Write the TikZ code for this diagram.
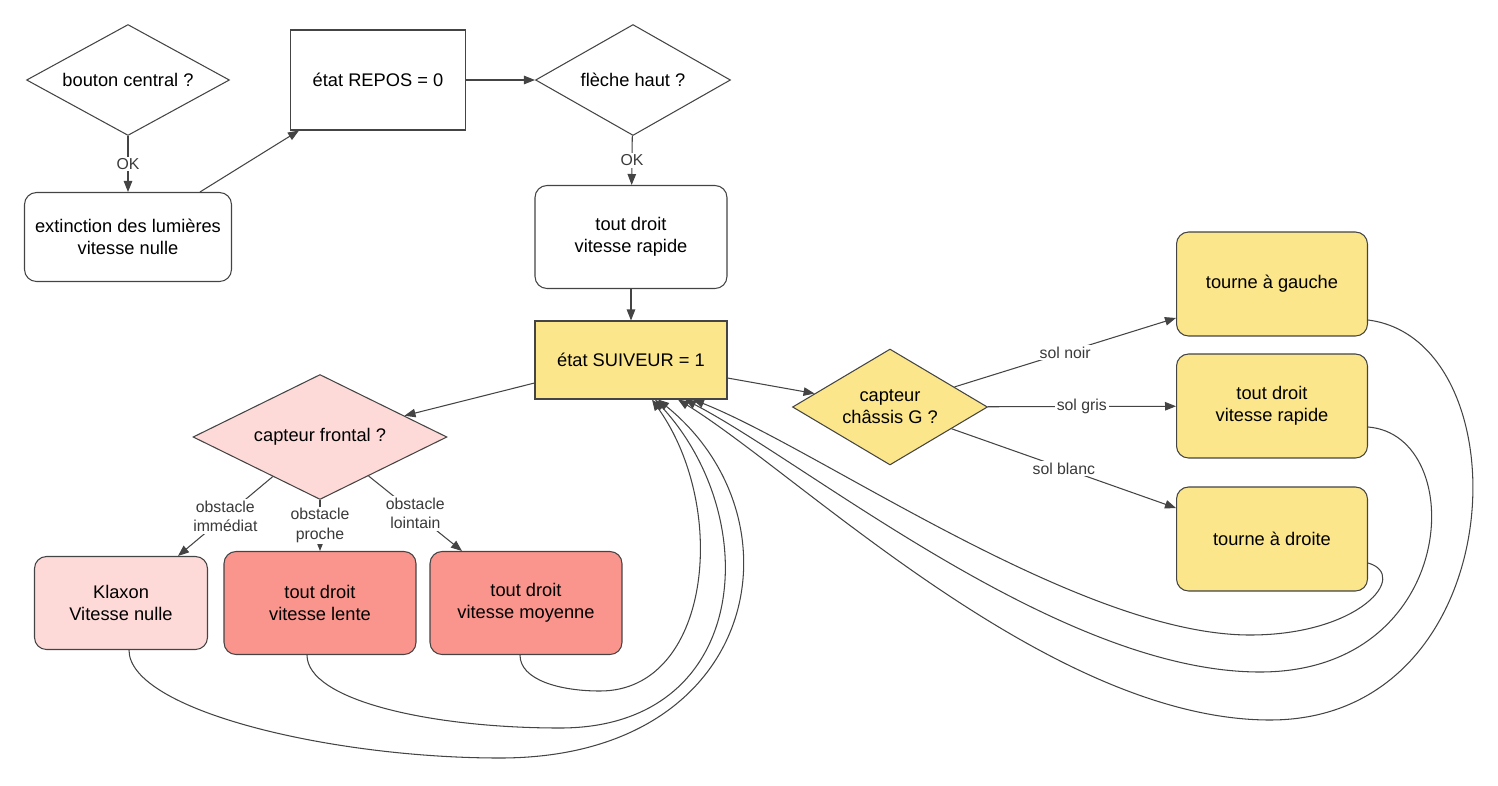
\documentclass[tikz,border=0pt]{standalone}
\usepackage{fontspec}
\setmainfont{Liberation Sans}
\usepackage{xcolor}
\definecolor{lineGrey}  {HTML}{444444}
\definecolor{labelGrey} {HTML}{3A3A3A}
\definecolor{suivBack}  {HTML}{FBE68B}
\definecolor{frontBack} {HTML}{FDDAD8}
\definecolor{moveBack}  {HTML}{FA958D}
\usetikzlibrary{arrows.meta, positioning, shapes.geometric}
\tikzset{
    stepbox/.style={rectangle, draw=lineGrey, line width=0.6pt, align=center,
                    font=\fontsize{10.4}{12.6}\selectfont,
                    minimum width=3.84cm, minimum height=2.06cm},
    roundbox/.style={stepbox, rounded corners=0.24cm},
    decision/.style={diamond, draw=lineGrey, line width=0.6pt, align=center,
                     font=\fontsize{10.4}{12.6}\selectfont, inner sep=0pt,
                     shape aspect=2},
    edge/.style={-{Triangle[length=2.2mm, width=1.7mm]}, lineGrey, line width=0.6pt},
    elabel/.style={fill=white, inner sep=1pt, align=center, text=labelGrey,
                   font=\fontsize{9}{11.2}\selectfont},
}

\begin{document}
\begin{tikzpicture}[x=0.02cm, y=-0.02cm, node distance=1.38cm]
    \useasboundingbox (0,0) rectangle (1498,785);
    % mode repos
    \node[decision, minimum width=4.06cm, minimum height=2.22cm] (bouton) at (128,80) {bouton central ?};
    \node[roundbox, minimum width=4.14cm, minimum height=1.78cm] (extinct) at (128,237) {extinction des lumières\\vitesse nulle};
    \node[stepbox, minimum width=3.5cm, minimum height=2cm] (repos) at (378,80) {état REPOS = 0};
    \node[decision, minimum width=3.9cm, minimum height=2.22cm, right=of repos] (fleche) {flèche haut ?};
    \node[roundbox] (rapide) at (631,237) {tout droit\\vitesse rapide};
    % mode suiveur
    \node[stepbox, fill=suivBack, minimum height=1.56cm] (suiveur) at (631,360) {état SUIVEUR = 1};
    \node[decision, fill=frontBack, minimum width=5.08cm, minimum height=2.5cm] (frontal) at (320,437) {capteur frontal ?};
    \node[decision, fill=suivBack, minimum width=3.9cm, minimum height=2.32cm] (chassis) at (890,407) {capteur\\châssis G ?};
    \node[roundbox, fill=suivBack, minimum width=3.82cm, minimum height=2.08cm] (gauche) at (1272,284) {tourne à gauche};
    \node[roundbox, fill=suivBack, minimum width=3.82cm, minimum height=2.08cm] (rapideG) at (1272,406) {tout droit\\vitesse rapide};
    \node[roundbox, fill=suivBack, minimum width=3.82cm, minimum height=2.08cm] (droite) at (1272,539) {tourne à droite};
    % obstacles
    \node[roundbox, fill=frontBack, minimum width=3.46cm, minimum height=1.86cm] (klaxon) at (121,603) {Klaxon\\Vitesse nulle};
    \node[roundbox, fill=moveBack] (lente) at (320,603) {tout droit\\vitesse lente};
    \node[roundbox, fill=moveBack] (moyenne) at (526,603) {tout droit\\vitesse moyenne};

    \draw[edge] (bouton) -- node[elabel] {OK} (extinct);
    \draw[edge] ([xshift=1.44cm]extinct.north) -- ([xshift=0.18cm]repos.south west);
    \draw[edge] (repos) -- (fleche);
    \draw[edge] (fleche) -- node[elabel] {OK} (rapide);
    \draw[edge] (rapide) -- (suiveur);
    \draw[edge] ([yshift=-0.46cm]suiveur.west) -- (frontal);
    \draw[edge] ([yshift=-0.36cm]suiveur.east) -- (chassis);
    \draw[edge] (chassis) -- node[elabel] {sol noir} ([yshift=-0.68cm]gauche.west);
    \draw[edge] (chassis) -- node[elabel] {sol gris} (rapideG);
    \draw[edge] (chassis) -- node[elabel] {sol blanc} ([yshift=0.62cm]droite.west);
    \draw[edge] (frontal) -- node[elabel] {obstacle\\immédiat} ([xshift=1.14cm]klaxon.north);
    \draw[edge] (frontal) -- node[elabel] {obstacle\\proche} (lente);
    \draw[edge] (frontal) -- node[elabel] {obstacle\\lointain} ([xshift=-1.28cm]moyenne.north);

    % retours vers SUIVEUR
    \draw[edge] ([xshift=-0.12cm]moyenne.south) .. controls +(0,25) and +(-40,0) .. (600,691)
        .. controls +(110,0) and +(78,110) .. ([xshift=0.42cm]suiveur.south);
    \draw[edge] ([xshift=-0.26cm]lente.south) .. controls +(0,45) and +(-130,0) .. (560,728)
        .. controls +(190,0) and +(110,120) .. ([xshift=0.48cm]suiveur.south);
    \draw[edge] ([xshift=0.16cm]klaxon.south) .. controls +(0,60) and +(-170,0) .. (500,758)
        .. controls +(260,0) and +(148,120) .. ([xshift=0.54cm]suiveur.south);
    \draw[edge] ([yshift=-0.48cm]droite.east) .. controls +(42,12) and +(110,0) .. (1250,635)
        .. controls +(-170,0) and +(127,50) .. ([xshift=1.24cm]suiveur.south);
    \draw[edge] ([yshift=-0.42cm]rapideG.east) .. controls +(102,8) and +(200,0) .. (1260,672)
        .. controls +(-200,0) and +(125,65) .. ([xshift=1.08cm]suiveur.south);
    \draw[edge] ([yshift=-0.72cm]gauche.east) .. controls +(158,20) and +(245,0) .. (1270,720)
        .. controls +(-220,0) and +(122,75) .. ([xshift=0.94cm]suiveur.south);
\end{tikzpicture}
\end{document}
